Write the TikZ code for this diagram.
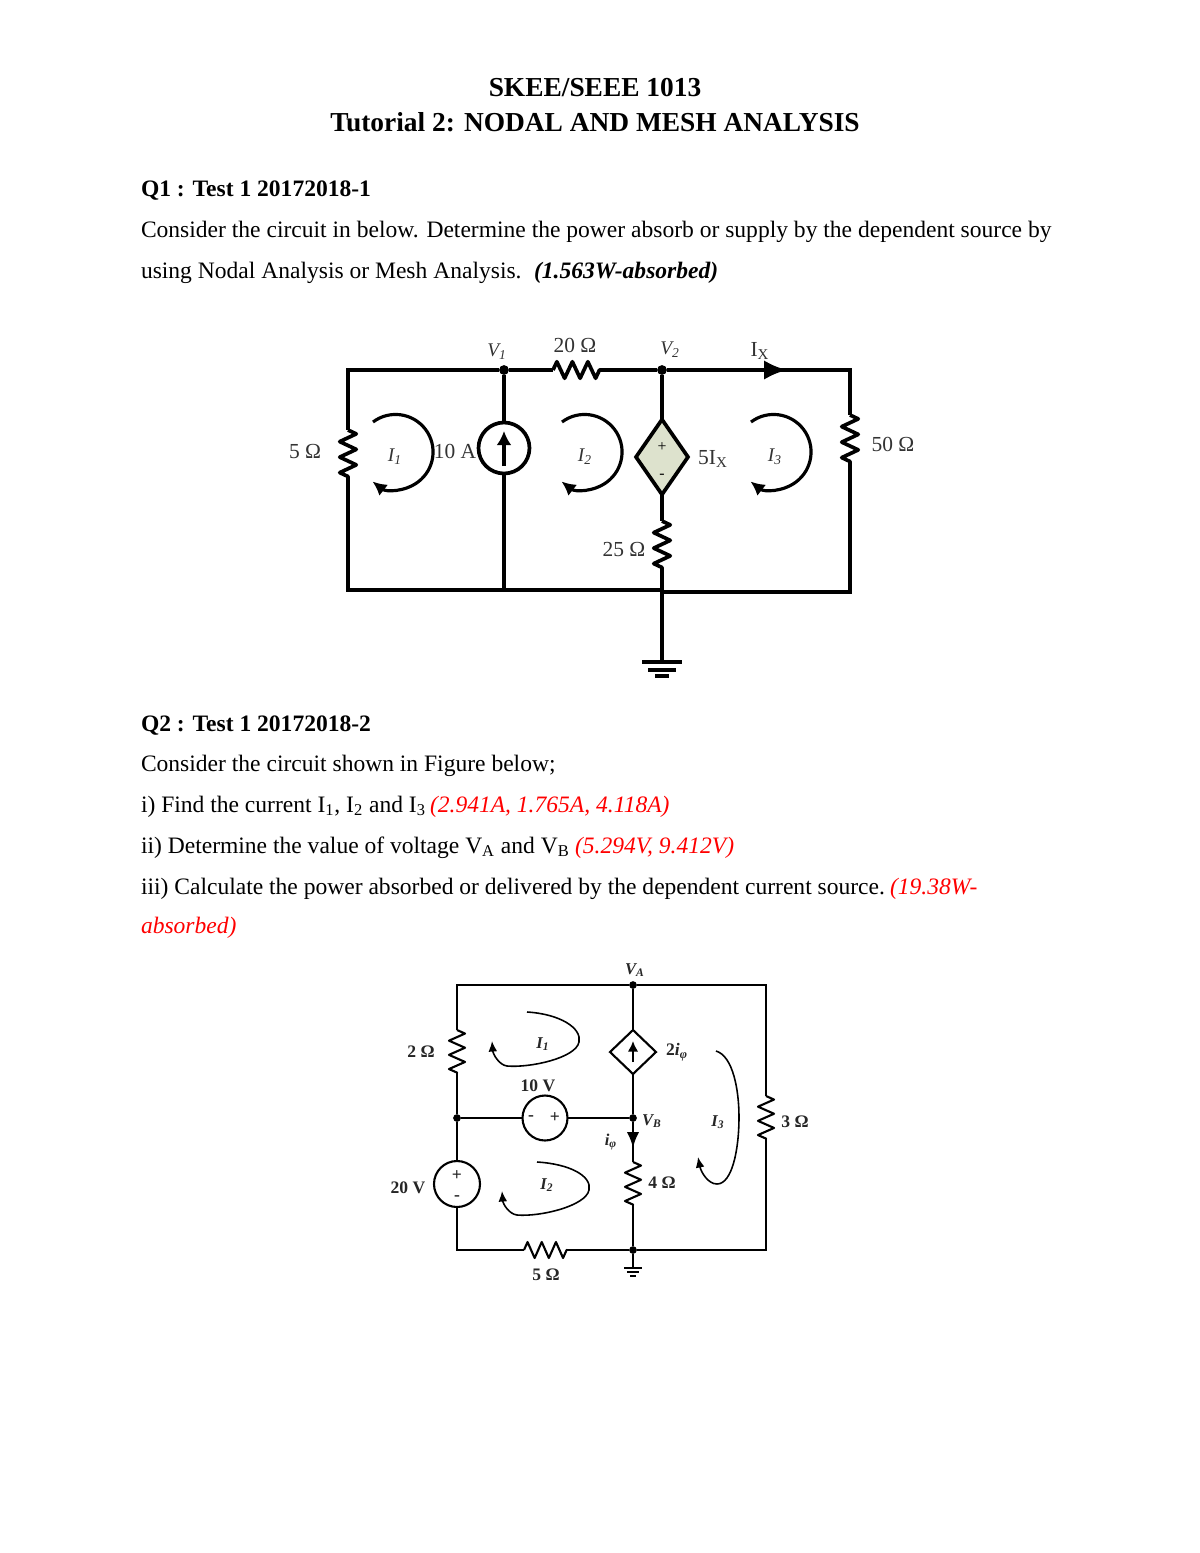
\documentclass[tikz,border=0pt]{standalone}
\usepackage{fontspec}
\setmainfont{Liberation Serif}
\usetikzlibrary{arrows.meta,decorations.pathmorphing,shapes.geometric}
\begin{document}
\begin{tikzpicture}[
    x=0.02cm, y=-0.02cm,
    every node/.style={inner sep=0pt, outer sep=0pt, font=\fontsize{13.4}{16}\selectfont},
    body/.style={anchor=base west},
    answer/.style={anchor=base west, text=red, font=\fontsize{13.4}{16}\selectfont\itshape},
    wire/.style={line width=2.1pt, line join=miter},
    wirethin/.style={line width=1.2pt},
    reslarge/.style={line width=2.1pt, line join=round, decorate, decoration={zigzag, segment length=0.31cm, amplitude=0.165cm}},
    ressmall/.style={line width=1.2pt, line join=round, decorate, decoration={zigzag, segment length=0.284cm, amplitude=0.16cm}},
    meshlarge/.style={line width=1.8pt, -{Latex[length=8pt,width=8pt]}},
    meshsmall/.style={line width=0.9pt, -{Latex[length=6pt,width=5pt]}},
    vallarge/.style={font=\fontsize{12.2}{14}\selectfont, text=black!80},
    mathlarge/.style={font=\fontsize{11}{13}\selectfont\itshape, text=black!80},
    valsmall/.style={font=\fontsize{10}{12}\selectfont\bfseries, text=black!85},
    mathsmall/.style={font=\fontsize{9.4}{11}\selectfont\bfseries\itshape, text=black!85},
    dot/.style={circle, fill=black, minimum size=#1},
    sourcelarge/.style={circle, draw, line width=2.1pt, fill=white, minimum size=1.02cm},
    sourcesmall/.style={circle, draw, line width=1.2pt, fill=white, minimum size=0.9cm}
]
\useasboundingbox (0,0) rectangle (1200,1553);

% page text
\node[font=\fontsize{15.6}{18}\selectfont\bfseries] (title1) at (595,88) {SKEE/SEEE 1013};
\node[font=\fontsize{15.6}{18}\selectfont\bfseries] (title2) at (595,122) {Tutorial 2: NODAL AND MESH ANALYSIS};
\node[body, font=\fontsize{13.4}{16}\selectfont\bfseries] (qone) at (141,196) {Q1 : Test 1 20172018-1};
\node[body] (qoneA) at (141,237) {Consider the circuit in below. Determine the power absorb or supply by the dependent source by};
\node[body] (qoneB) at (141,278) {using Nodal Analysis or Mesh Analysis.};
\node[body, font=\fontsize{13.4}{16}\selectfont\bfseries\itshape] (qoneC) at (534,278) {(1.563W-absorbed)};
\node[body, font=\fontsize{13.4}{16}\selectfont\bfseries] (qtwo) at (141,731) {Q2 : Test 1 20172018-2};
\node[body] (qtwoA) at (141,771) {Consider the circuit shown in Figure below;};
\node[body] (qtwoB) at (141,812) {i) Find the current I\textsubscript{1}, I\textsubscript{2} and I\textsubscript{3}};
\node[answer] (qtwoBans) at (430,812) {(2.941A, 1.765A, 4.118A)};
\node[body] (qtwoC) at (141,853) {ii) Determine the value of voltage V\textsubscript{A} and V\textsubscript{B}};
\node[answer] (qtwoCans) at (575,853) {(5.294V, 9.412V)};
\node[body] (qtwoD) at (141,894) {iii) Calculate the power absorbed or delivered by the dependent current source.};
\node[answer] (qtwoDans) at (890,894) {(19.38W-};
\node[answer] (qtwoE) at (141,933) {absorbed)};

% first circuit
\coordinate (tl) at (348,370);
\coordinate (tr) at (850,370);
\coordinate (bl) at (348,590);
\coordinate (br) at (850,592);
\node[dot=5.6pt] (vone) at (504,370) {};
\node[dot=5.6pt] (vtwo) at (662,370) {};
\coordinate (bone) at (504,590);
\coordinate (btwo) at (662,590);
\coordinate (btwoR) at (662,592);
\coordinate (gnd) at (662,662);
\node[sourcelarge] (isrc) at (504,448) {};
\node[diamond, draw, line width=2.1pt, fill={rgb,255:red,221;green,226;blue,205}, minimum width=1.04cm, minimum height=1.5cm] (dep) at (662,457) {};
\coordinate (ra) at (553,370);
\coordinate (rb) at (600,370);
\coordinate (rc) at (348,430);
\coordinate (rd) at (348,477);
\coordinate (re) at (850,415);
\coordinate (rf) at (850,462);
\coordinate (rg) at (662,521);
\coordinate (rh) at (662,568);
\draw[wire] (vone) -- (ra) (rb) -- (vtwo) -- (tr) -- (re) (rf) -- (br) -- (btwoR);
\draw[wire] (vone) -- (tl) -- (rc) (rd) -- (bl) -- (btwo);
\draw[wire] (vone) -- (isrc) (isrc) -- (bone);
\draw[wire] (vtwo) -- (dep) (dep) -- (rg) (rh) -- (btwo) -- (gnd);
\draw[reslarge] (ra) -- (rb);
\draw[reslarge] (rc) -- (rd);
\draw[reslarge] (re) -- (rf);
\draw[reslarge] (rg) -- (rh);
\coordinate (isrcB) at (504,466);
\coordinate (isrcT) at (504,431);
\draw[line width=2.1pt, -{Latex[length=8pt,width=8.5pt]}] (isrcB) -- (isrcT);
\coordinate (ixA) at (764,370);
\coordinate (ixB) at (787,370);
\draw[wire, -{Latex[length=13pt,width=11pt]}] (ixA) -- (ixB);
% plates of the ground
\foreach \name/\ypos/\half/\lw in {p/662/20/2.1pt, q/670/14/2.1pt, r/676/7/2.4pt}{
    \coordinate (\name a) at (662-\half,\ypos);
    \coordinate (\name b) at (662+\half,\ypos);
    \draw[line width=\lw] (\name a) -- (\name b);
}
% mesh arrows
\foreach \name/\xpos in {mone/396, mtwo/585, mthree/774}{
    \coordinate (\name) at (\xpos-23,422);
    \draw[meshlarge] (\name) arc[start angle=127, end angle=-128, radius=0.75cm];
}
\node[vallarge] (lbltwenty) at (575,345) {20 Ω};
\node[vallarge] (lblfive) at (305,451) {5 Ω};
\node[vallarge] (lblten) at (455,451) {10 A};
\node[vallarge] (lblfifty) at (893,444) {50 Ω};
\node[vallarge] (lbltwentyfive) at (624,549) {25 Ω};
\node[vallarge] (lblix) at (760,351) {I\textsubscript{X}};
\node[vallarge] (lbldep) at (713,459) {5I\textsubscript{X}};
\node[mathlarge] (lblvone) at (497,352) {V\textsubscript{1}};
\node[mathlarge] (lblvtwo) at (670,350) {V\textsubscript{2}};
\node[mathlarge] (lblione) at (395,457) {I\textsubscript{1}};
\node[mathlarge] (lblitwo) at (585,457) {I\textsubscript{2}};
\node[mathlarge] (lblithree) at (775,457) {I\textsubscript{3}};
\node[font=\fontsize{9}{11}\selectfont] (depplus) at (662,447) {+};
\node[font=\fontsize{9}{11}\selectfont] (depminus) at (662,476) {-};

% second circuit
\coordinate (stl) at (457,985);
\coordinate (str) at (766,985);
\coordinate (sbl) at (457,1250);
\coordinate (sbr) at (766,1250);
\node[dot=4.4pt] (va) at (633,985) {};
\node[dot=4.4pt] (vl) at (457,1118) {};
\node[dot=4.4pt] (vb) at (633,1118) {};
\node[dot=4.4pt] (vg) at (633,1250) {};
\node[sourcesmall] (vten) at (545,1118) {};
\node[sourcesmall, minimum size=0.92cm] (vtw) at (457,1184) {};
\node[diamond, draw, line width=1.2pt, fill=white, minimum width=0.92cm, minimum height=0.88cm] (depb) at (633,1052) {};
\coordinate (sra) at (457,1030);
\coordinate (srb) at (457,1073);
\coordinate (src) at (766,1096);
\coordinate (srd) at (766,1139);
\coordinate (sre) at (633,1162);
\coordinate (srf) at (633,1205);
\coordinate (srg) at (524,1250);
\coordinate (srh) at (567,1250);
\coordinate (sgnd) at (633,1268);
\draw[wirethin] (va) -- (stl) -- (sra) (srb) -- (vl) -- (vtw) (vtw) -- (sbl) -- (srg) (srh) -- (vg) -- (sbr) -- (srd) (src) -- (str) -- (va);
\draw[wirethin] (vl) -- (vten) (vten) -- (vb);
\draw[line width=1.5pt] (va) -- (depb) (depb) -- (vb) -- (sre) (srf) -- (vg) -- (sgnd);
\draw[ressmall] (sra) -- (srb);
\draw[ressmall] (src) -- (srd);
\draw[ressmall] (sre) -- (srf);
\draw[ressmall] (srg) -- (srh);
\coordinate (depbB) at (633,1062);
\coordinate (depbT) at (633,1041);
\draw[line width=1.2pt, -{Latex[length=6pt,width=6pt]}] (depbB) -- (depbT);
\coordinate (iphiA) at (633,1130);
\coordinate (iphiB) at (633,1148);
\draw[line width=1.5pt, -{Latex[length=9pt,width=7pt]}] (iphiA) -- (iphiB);
\foreach \name/\ypos/\half in {sp/1268/9, sq/1272/6, sr/1276/3}{
    \coordinate (\name a) at (633-\half,\ypos);
    \coordinate (\name b) at (633+\half,\ypos);
    \draw[line width=0.9pt] (\name a) -- (\name b);
}
\coordinate (ma) at (527,1012);
\coordinate (mb) at (492,1041);
\coordinate (mc) at (537,1162);
\coordinate (md) at (502,1191);
\coordinate (me) at (716,1051);
\coordinate (mf) at (698,1157);
\draw[meshsmall] (ma) .. controls (560,1014) and (582,1028) .. (579,1042) .. controls (576,1058) and (530,1068) .. (507,1066) .. controls (499,1065) and (493,1054) .. (mb);
\draw[meshsmall] (mc) .. controls (570,1164) and (592,1176) .. (589,1190) .. controls (586,1206) and (540,1217) .. (517,1215) .. controls (509,1214) and (503,1204) .. (md);
\draw[meshsmall] (me) .. controls (733,1056) and (739,1090) .. (739,1117) .. controls (739,1150) and (732,1184) .. (717,1184) .. controls (708,1184) and (701,1172) .. (mf);
\node[valsmall] (lbltwo) at (421,1052) {2 Ω};
\node[valsmall] (lblthree) at (795,1122) {3 Ω};
\node[valsmall] (lblfour) at (662,1183) {4 Ω};
\node[valsmall] (lblsfive) at (546,1275) {5 Ω};
\node[valsmall] (lblvten) at (538,1086) {10 V};
\node[valsmall] (lblvtw) at (408,1188) {20 V};
\node[valsmall] (lbldepb) at (677,1052) {2\textit{i}\textsubscript{\textit{φ}}};
\node[mathsmall] (lbliphi) at (611,1142) {i\textsubscript{φ}};
\node[mathsmall] (lblva) at (635,970) {V\textsubscript{A}};
\node[mathsmall] (lblvb) at (652,1121) {V\textsubscript{B}};
\node[mathsmall] (lblsione) at (543,1044) {I\textsubscript{1}};
\node[mathsmall] (lblsitwo) at (547,1185) {I\textsubscript{2}};
\node[mathsmall] (lblsithree) at (718,1122) {I\textsubscript{3}};
\node[valsmall] (tenminus) at (531,1118) {-};
\node[valsmall] (tenplus) at (555,1118) {+};
\node[valsmall] (twplus) at (457,1176) {+};
\node[valsmall] (twminus) at (457,1198) {-};
\end{tikzpicture}
\end{document}
